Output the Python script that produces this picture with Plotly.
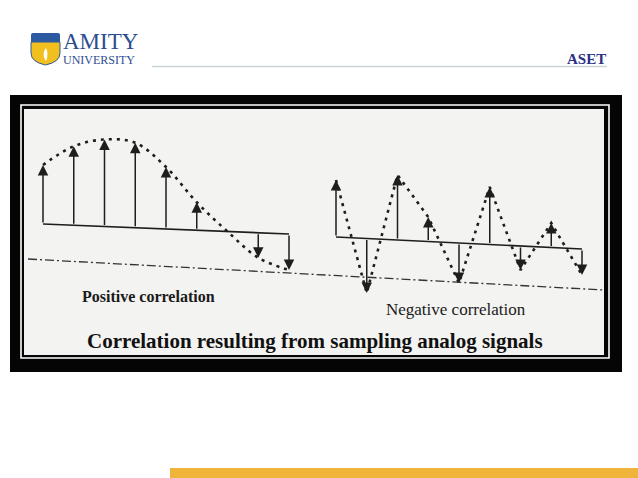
import plotly.graph_objects as go

W, H = 638, 478

# ---- data ----
sample_index = [0, 1, 2, 3, 4, 5, 6, 7, 8]
positive_vals = [59, 79, 87, 85, 62, 28, 0, -25, -36]
negative_vals = [57, -54.5, 65, 24.5, -40, 57.5, -24, 24.5, -26]
labels = ["Positive correlation", "Negative correlation"]
caption = "Correlation resulting from sampling analog signals"

# scan tilt of the baselines (style)
LEFT_TILT = 1.25
RIGHT_TILT = 1.5


def px(x):
    return x / W


def py(y):
    return 1 - y / H


fig = go.Figure()

left_base = [-LEFT_TILT * i for i in sample_index]
right_base = [-RIGHT_TILT * i for i in sample_index]
left_tip = [b + v for b, v in zip(left_base, positive_vals)]
right_tip = [b + v for b, v in zip(right_base, negative_vals)]

ink = "#1e1e1e"

# baselines
fig.add_trace(go.Scatter(x=sample_index, y=left_base, mode="lines",
                         line=dict(color=ink, width=1.6), xaxis="x", yaxis="y",
                         hoverinfo="skip", showlegend=False))
fig.add_trace(go.Scatter(x=sample_index, y=right_base, mode="lines",
                         line=dict(color=ink, width=1.6), xaxis="x2", yaxis="y2",
                         hoverinfo="skip", showlegend=False))
# analog signals (dotted)
fig.add_trace(go.Scatter(x=sample_index, y=left_tip, mode="lines",
                         line=dict(color=ink, width=2.6, dash="3px,5px", shape="spline"),
                         xaxis="x", yaxis="y", hoverinfo="skip", showlegend=False))
fig.add_trace(go.Scatter(x=sample_index, y=right_tip, mode="lines",
                         line=dict(color=ink, width=2.6, dash="3px,5px"),
                         xaxis="x2", yaxis="y2", hoverinfo="skip", showlegend=False))

annotations = []
for xs, bs, ts, xr, yr in [(sample_index, left_base, left_tip, "x", "y"),
                           (sample_index, right_base, right_tip, "x2", "y2")]:
    for i, b, t in zip(xs, bs, ts):
        if abs(t - b) < 1e-9:
            continue
        annotations.append(dict(x=i, y=t, ax=i, ay=b, xref=xr, yref=yr,
                                axref=xr, ayref=yr, text="", showarrow=True,
                                arrowhead=2, arrowsize=1.4, arrowwidth=1.5,
                                arrowcolor=ink, standoff=0))


def label(x, y, text, size, color, xanchor="center", family="Liberation Serif"):
    return dict(x=px(x), y=py(y), xref="paper", yref="paper", text=text,
                xanchor=xanchor, yanchor="middle", showarrow=False,
                font=dict(family=family, size=size, color=color))


# texts
annotations += [
    label(148, 296, "<b>" + labels[0] + "</b>", 16, "#1a1a1a"),
    label(456, 309, labels[1], 17, "#1a1a1a"),
    label(315, 341, "<b>" + caption + "</b>", 21, "#111"),
    label(608, 58.5, "<b>ASET</b>", 15, "#2b2f86", xanchor="right"),
    label(61, 42, "AMITY", 23, "#2d4d8e", xanchor="left"),
    label(61, 60, "UNIVERSITY", 12, "#2d4d8e", xanchor="left"),
]

shapes = [
    # black frame
    dict(type="rect", xref="paper", yref="paper", x0=px(10), x1=px(622), y0=py(372), y1=py(95),
         fillcolor="#050505", line=dict(width=0), layer="below"),
    dict(type="rect", xref="paper", yref="paper", x0=px(21), x1=px(609), y0=py(358), y1=py(105),
         fillcolor="rgba(0,0,0,0)", line=dict(color="white", width=1.6), layer="below"),
    dict(type="rect", xref="paper", yref="paper", x0=px(24), x1=px(604), y0=py(355), y1=py(109),
         fillcolor="#f3f3f1", line=dict(width=0), layer="below"),
    # reference dash-dot level
    dict(type="line", xref="paper", yref="paper", x0=px(28), y0=py(259), x1=px(604), y1=py(290),
         line=dict(color="#333", width=1.3, dash="9px,3px,2px,3px"), layer="below"),
    # header line
    dict(type="line", xref="paper", yref="paper", x0=px(152), y0=py(66.5), x1=px(607), y1=py(66.5),
         line=dict(color="#c9d5d5", width=1.5)),
    # bottom gold bar
    dict(type="rect", xref="paper", yref="paper", x0=px(170), x1=px(638), y0=py(478), y1=py(468),
         fillcolor="#f0b43a", line=dict(width=0)),
    # shield logo
    dict(type="path", xref="paper", yref="paper",
         path=f"M{px(31)},{py(42)} L{px(60)},{py(42)} L{px(60)},{py(53)} "
              f"Q{px(60)},{py(62)} {px(45.5)},{py(65)} Q{px(31)},{py(62)} {px(31)},{py(53)} Z",
         fillcolor="#f2c01e", line=dict(color="#2c5aa0", width=1)),
    dict(type="path", xref="paper", yref="paper",
         path=f"M{px(31)},{py(42)} L{px(31)},{py(35)} Q{px(31)},{py(33)} {px(33)},{py(33)} "
              f"L{px(58)},{py(33)} Q{px(60)},{py(33)} {px(60)},{py(35)} L{px(60)},{py(42)} Z",
         fillcolor="#2c5aa0", line=dict(width=0)),
    dict(type="path", xref="paper", yref="paper",
         path=f"M{px(46)},{py(61)} Q{px(41)},{py(54)} {px(46)},{py(48)} Q{px(49)},{py(54)} {px(46)},{py(61)} Z",
         fillcolor="white", line=dict(width=0)),
]

fig.update_layout(
    width=W, height=H, margin=dict(l=0, r=0, t=0, b=0),
    paper_bgcolor="white", plot_bgcolor="rgba(0,0,0,0)",
    showlegend=False,
    xaxis=dict(domain=[px(12.25), px(319.75)], range=[-1, 9], visible=False),
    yaxis=dict(domain=[py(370), py(100)], range=[-146, 124], visible=False),
    xaxis2=dict(domain=[px(305.25), px(612.75)], range=[-1, 9], visible=False),
    yaxis2=dict(domain=[py(370), py(100)], range=[-133, 137], visible=False),
    annotations=annotations, shapes=shapes,
)

fig.write_html("out.html", config={"displayModeBar": False, "staticPlot": True},
               post_script="document.body.style.margin='0';document.body.style.overflow='hidden';")
